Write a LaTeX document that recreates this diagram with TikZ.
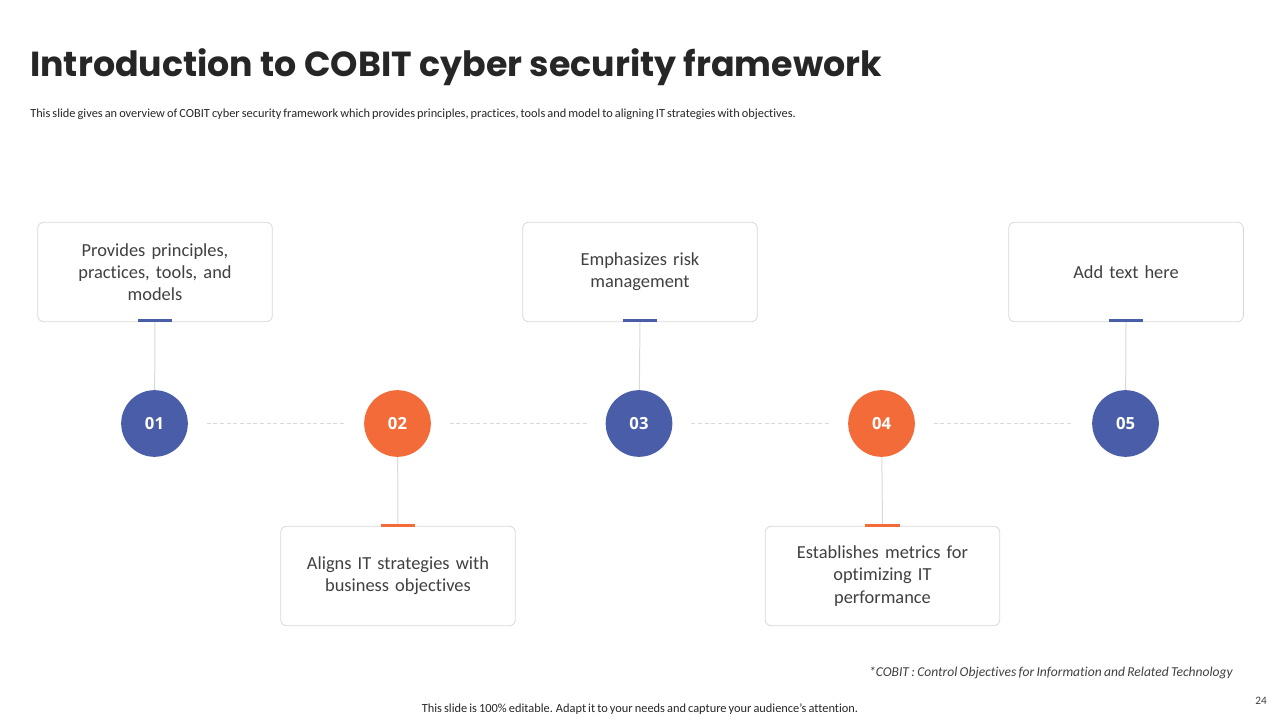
\documentclass[tikz,border=0pt]{standalone}
\usepackage{fontspec}
\setmainfont{Carlito}[Ligatures = NoCommon, WordSpace = 0.75]
\newfontfamily\titlefont{Poppins}
\newfontfamily\numfont{Open Sans}
\usetikzlibrary{positioning}
\definecolor{bluecirc}{HTML}{4A5DA8}
\definecolor{orangecirc}{HTML}{F26B38}
\definecolor{boxline}{HTML}{D9D9D9}
\definecolor{darktext}{HTML}{404040}
\tikzset{textbox/.style = {draw = boxline, line width = 0.6pt, rounded corners = 4.5pt, fill = white, minimum width = 176pt, minimum height = 74.5pt, inner sep = 0, align = center, text width = 150pt, text = darktext, font = \fontsize{13.8}{16.7}\selectfont}}
\tikzset{circ/.style = {circle, inner sep = 0, minimum size = 50pt, text = white, font = \numfont\bfseries\fontsize{12.5}{14}\selectfont}}
\tikzset{tick/.style = {inner sep = 0, minimum width = 26pt, minimum height = 2.2pt}}
\tikzset{stem/.style = {draw = boxline, line width = 0.75pt}}
\tikzset{dashline/.style = {draw = boxline, line width = 0.6pt, dashed, dash pattern = on 3pt off 2pt, shorten < = 14pt, shorten > = 14pt}}

\begin{document}
\begin{tikzpicture}[x = 0.75pt, y = -0.75pt]
      \useasboundingbox (0, 0) rectangle (1280, 720);

      \node [anchor = west, inner sep = 0, font = \titlefont\fontseries{sb}\selectfont\fontsize{26.1}{32}\selectfont, text = black!85] (title) at (30, 67.5) {Introduction to COBIT cyber security framework};
      \node [anchor = west, inner sep = 0, font = \fontsize{9.25}{10}\selectfont, text = black!85] (subtitle) at (30, 114.5) {This slide gives an overview of COBIT cyber security framework which provides principles, practices, tools and model to aligning IT strategies with objectives.};

      \node [textbox] (box1) at (155, 272) {Provides principles,\\ practices, tools, and\\ models};
      \node [textbox] (box2) at (398, 576) {Aligns IT strategies with\\ business objectives};
      \node [textbox] (box3) at (640, 272) {Emphasizes risk\\ management};
      \node [textbox] (box4) at (882.5, 576) {Establishes metrics for\\ optimizing IT\\ performance};
      \node [textbox] (box5) at (1126, 272) {Add text here};

      \node [circ, fill = bluecirc] (num1) at (154.5, 423.5) {01};
      \node [circ, fill = orangecirc] (num2) at (397.5, 423.5) {02};
      \node [circ, fill = bluecirc] (num3) at (639, 423.5) {03};
      \node [circ, fill = orangecirc] (num4) at (881.5, 423.5) {04};
      \node [circ, fill = bluecirc] (num5) at (1125.5, 423.5) {05};

      \draw [stem] (box1.south) -- (num1);
      \draw [stem] (box2.north) -- (num2);
      \draw [stem] (box3.south) -- (num3);
      \draw [stem] (box4.north) -- (num4);
      \draw [stem] (box5.south) -- (num5);

      \node [tick, fill = bluecirc, above = -0.4pt of box1.south] (tick1) {};
      \node [tick, fill = orangecirc] (tick2) at (box2.north) {};
      \node [tick, fill = bluecirc, above = -0.4pt of box3.south] (tick3) {};
      \node [tick, fill = orangecirc] (tick4) at (box4.north) {};
      \node [tick, fill = bluecirc, above = -0.4pt of box5.south] (tick5) {};

      \draw [dashline] (num1) -- (num2);
      \draw [dashline] (num2) -- (num3);
      \draw [dashline] (num3) -- (num4);
      \draw [dashline] (num4) -- (num5);

      \node [anchor = east, inner sep = 0, font = \itshape\fontsize{10.17}{11}\selectfont, text = darktext] (note) at (1233, 672.5) {*COBIT : Control Objectives for Information and Related Technology};
      \node [inner sep = 0, font = \fontsize{9.28}{10}\selectfont, text = black!85] (footer) at (640, 709) {This slide is 100\% editable. Adapt it to your needs and capture your audience's attention.};
      \node [inner sep = 0, font = \fontsize{8.5}{10}\selectfont, text = darktext] (page) at (1261, 701) {24};
    \end{tikzpicture}
\end{document}
